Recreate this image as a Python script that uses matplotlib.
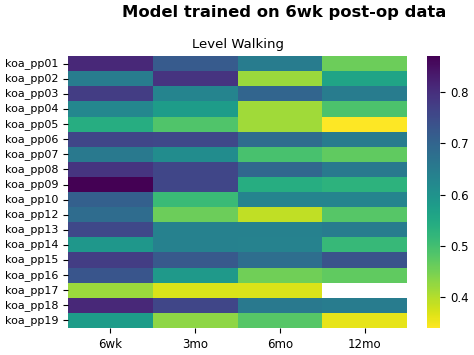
import matplotlib
matplotlib.use("Agg")
import matplotlib.pyplot as plt
import numpy as np
import seaborn as sns

subjects = ["koa_pp01", "koa_pp02", "koa_pp03", "koa_pp04", "koa_pp05", "koa_pp06",
            "koa_pp07", "koa_pp08", "koa_pp09", "koa_pp10", "koa_pp12", "koa_pp13",
            "koa_pp14", "koa_pp15", "koa_pp16", "koa_pp17", "koa_pp18", "koa_pp19"]
timepoints = ["6wk", "3mo", "6mo", "12mo"]

v_6wk = [0.81, 0.65, 0.775, 0.625, 0.54, 0.76, 0.655, 0.79, 0.87, 0.71, 0.685, 0.755,
         0.59, 0.775, 0.73, 0.42, 0.81, 0.58]
v_3mo = [0.72, 0.79, 0.63, 0.58, 0.485, 0.755, 0.615, 0.76, 0.76, 0.51, 0.46, 0.64,
         0.64, 0.725, 0.585, 0.37, 0.76, 0.43]
v_6mo = [0.65, 0.42, 0.70, 0.415, 0.415, 0.685, 0.495, 0.695, 0.54, 0.63, 0.39, 0.64,
         0.635, 0.68, 0.455, 0.37, 0.655, 0.48]
v_12mo = [0.46, 0.56, 0.65, 0.49, 0.34, 0.65, 0.47, 0.655, 0.53, 0.63, 0.48, 0.65,
          0.515, 0.735, 0.47, np.nan, 0.65, 0.36]

data = np.column_stack([v_6wk, v_3mo, v_6mo, v_12mo])

fig = plt.figure(figsize=(4.74, 3.55), dpi=100)
ax = fig.add_axes([0.1435, 0.076, 0.7155, 0.766])
cax = fig.add_axes([0.901, 0.076, 0.028, 0.766])
sns.heatmap(data, ax=ax, cbar_ax=cax, cmap="viridis_r",
            xticklabels=timepoints, yticklabels=subjects)
ax.tick_params(axis="y", labelsize=8, rotation=0)
ax.tick_params(axis="x", labelsize=8.5)
cax.tick_params(labelsize=8.5)
ax.set_title("Level Walking", fontsize=9.5)
fig.suptitle("Model trained on 6wk post-op data", fontsize=11.8, fontweight="bold",
             x=0.60, y=0.985)
fig.savefig("out.png", dpi=100)
